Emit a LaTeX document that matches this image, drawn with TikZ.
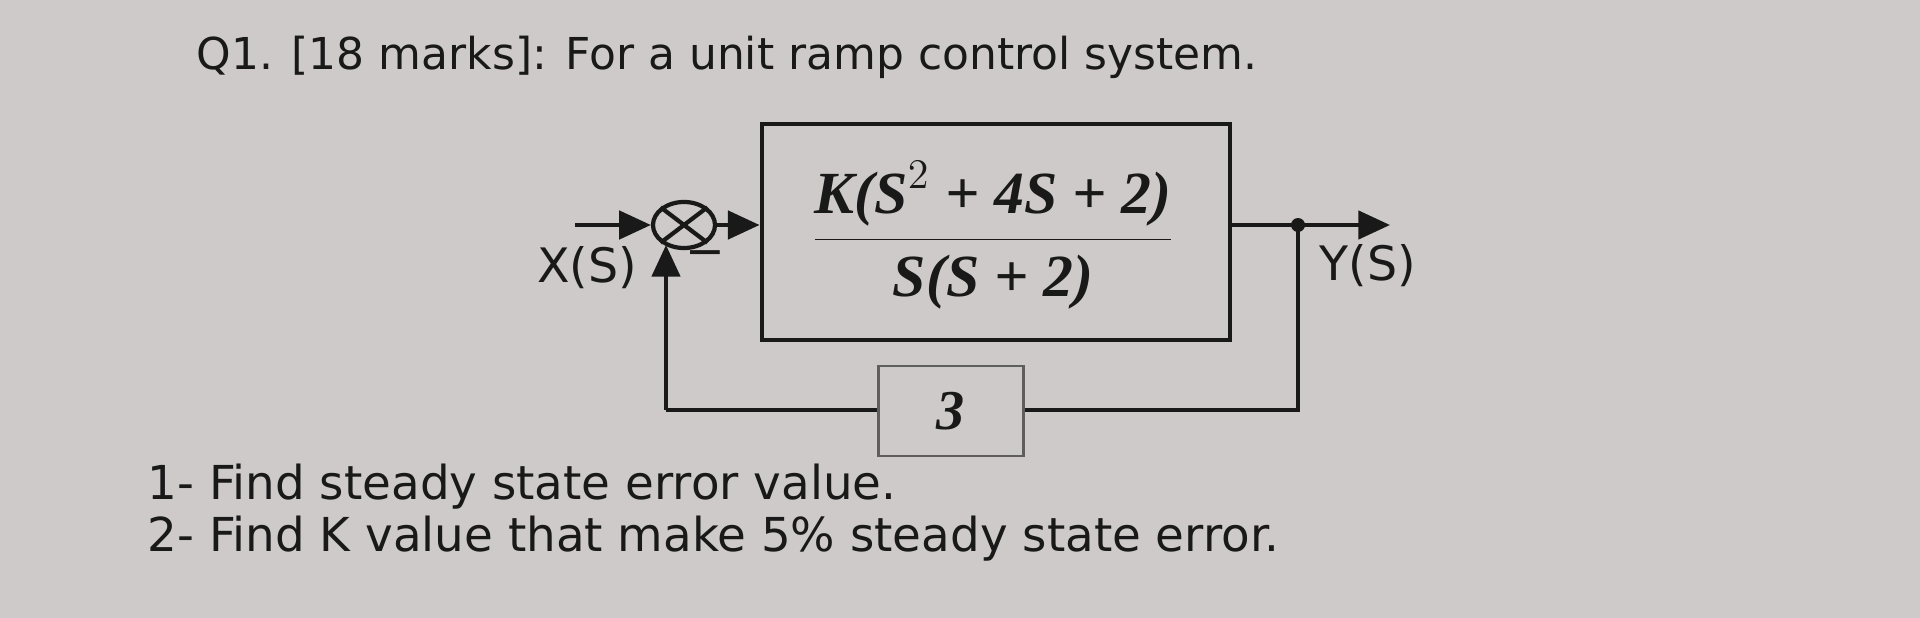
\documentclass[tikz,border=0pt]{standalone}
\usepackage{fontspec}
\setmainfont{DejaVu Sans}
\newfontfamily\fracfont{Liberation Serif}
\usetikzlibrary{shapes.geometric,arrows.meta}
\definecolor{bg}{RGB}{206,202,201}
\definecolor{ink}{RGB}{25,25,25}
\tikzset{
  txt/.style={font=\fontsize{12.5}{14}\selectfont, text=ink, inner sep=0pt},
  qtxt/.style={font=\fontsize{13.3}{15}\selectfont, text=ink, inner sep=0pt},
  lbl/.style={font=\fontsize{13.5}{15}\selectfont, text=ink, inner sep=0pt},
  wire/.style={draw=ink, line width=1.2pt},
  arr/.style={wire, -{Triangle[length=9pt,width=8pt]}},
  blk/.style={draw=ink, line width=1.3pt, inner sep=0pt},
}
\begin{document}
\begin{tikzpicture}[x=0.01cm,y=-0.01cm]
\fill[bg] (0,0) rectangle (1920,618);
\useasboundingbox (0,0) rectangle (1920,618);
\node[txt, anchor=west] (title) at (196,57) {Q1. [18 marks]: For a unit ramp control system.};
\node[draw=ink, line width=1.2pt, ellipse, inner sep=0pt, minimum width=0.62cm, minimum height=0.46cm] (sum) at (684,225) {};
\draw[wire] (sum.north east) -- (sum.south west) (sum.north west) -- (sum.south east);
\node[blk, minimum width=4.68cm, minimum height=2.16cm] (G) at (996,232) {};
\node[font=\fracfont\bfseries\itshape\fontsize{17}{19}\selectfont, text=ink] (frac) at (993,235)
  {$\displaystyle\frac{\mbox{K(S}^{2}\mbox{ + 4S + 2)}}{\mbox{S(S + 2)}}$};
\node[draw=ink!70, line width=0.8pt, minimum width=1.45cm, minimum height=0.9cm, inner sep=0pt,
  font=\fracfont\bfseries\itshape\fontsize{16}{18}\selectfont, text=ink] (H) at (951,411) {3};
\coordinate (in) at (575,225);
\coordinate (dot) at (1298,225);
\coordinate (out) at (1390,225);
\coordinate (br) at (1298,410);
\coordinate (bl) at (666,410);
\coordinate (fbend) at (666,245);
\draw[arr] (in) -- (sum.west);
\draw[arr] (sum.east) -- (G.west |- sum.east);
\draw[wire] (G.east |- dot) -- (dot);
\draw[arr] (dot) -- (out);
\fill[ink] (dot) circle (7);
\draw[wire] (dot) -- (br) -- (H.east |- br);
\draw[wire] (H.west |- bl) -- (bl);
\draw[arr] (bl) -- (fbend);
\node[lbl] (xs) at (587,268) {X(S)};
\node[lbl] (minus) at (705,259) {−};
\node[lbl] (ys) at (1368,266) {Y(S)};
\node[qtxt, anchor=west] (q1) at (147,487) {1- Find steady state error value.};
\node[qtxt, anchor=west] (q2) at (147,539) {2- Find K value that make 5\% steady state error.};
\end{tikzpicture}
\end{document}
